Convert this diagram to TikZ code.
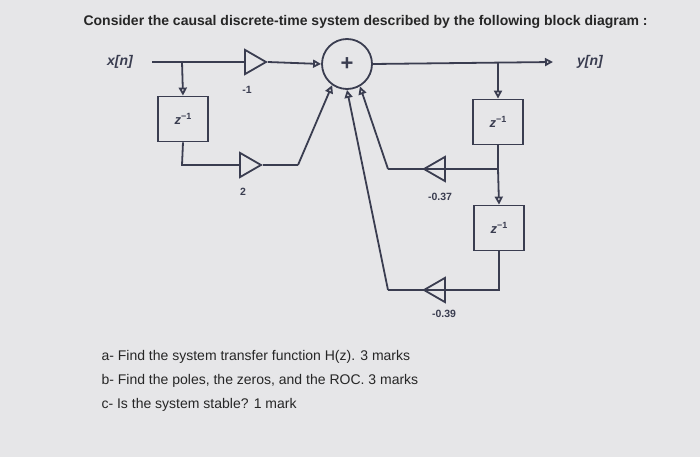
\documentclass[tikz,border=0pt]{standalone}
\usepackage{fontspec}
\setmainfont{Liberation Sans}
\usetikzlibrary{arrows.meta,shapes.geometric}
\definecolor{ink}{HTML}{3A3D50}
\definecolor{bg}{HTML}{E6E6E8}
\newcommand{\zinv}{{\bfseries\itshape z}\raisebox{5pt}{\bfseries\fontsize{9}{10}\selectfont −1}}
\begin{document}
\begin{tikzpicture}[x=1pt,y=-1pt,
  wire/.style={draw=ink,line width=1.8pt},
  arr/.style={wire,-{Triangle[open,length=8pt,width=8pt]}},
  delaybox/.style={draw=ink,line width=1.8pt,minimum width=50pt,minimum height=45pt,inner sep=0pt,font=\fontsize{13}{15}\selectfont,text=ink},
  gainr/.style={draw=ink,line width=1.8pt,isosceles triangle,isosceles triangle apex angle=60,minimum height=21pt,inner sep=0pt,shape border rotate=0},
  gainl/.style={gainr,shape border rotate=180},
  lab/.style={font=\bfseries\fontsize{10.5}{12}\selectfont,text=ink},
  txt/.style={font=\fontsize{14}{16}\selectfont,text=black!85,anchor=west}]
\fill[bg] (0,0) rectangle (700,457);
\useasboundingbox (0,0) rectangle (700,457);
\node[font=\bfseries\fontsize{14}{16}\selectfont,anchor=west,text=black!85] (title) at (80,22) {Consider the causal discrete-time system described by the following block diagram :};
\node[font=\bfseries\itshape\fontsize{14}{16}\selectfont,text=ink] (x) at (120,62) {x[n]};
\node[font=\bfseries\itshape\fontsize{14}{16}\selectfont,text=ink] (y) at (590,62) {y[n]};
\node[circle,draw=ink,line width=1.8pt,minimum size=50pt,inner sep=0pt,font=\bfseries\fontsize{22}{24}\selectfont,text=ink] (sum) at (347,64) {+};
\coordinate (xs) at (152,62);
\coordinate (b1) at (182,62);
\node[delaybox] (d1) at (183,119) {\zinv};
\node[gainr] (g1) at (252,62) {};
\node[lab] at (247,90) {-1};
\coordinate (c1) at (182,165);
\node[gainr] (g2) at (247,165) {};
\node[lab] at (243,192) {2};
\coordinate (k2) at (298,165);
\coordinate (out) at (553,62);
\coordinate (b2) at (498,62);
\node[delaybox] (d2) at (498,122) {\zinv};
\coordinate (b3) at (498,169);
\node[gainl] (g3) at (438,169) {};
\node[lab] at (440,197) {-0.37};
\coordinate (k3) at (388,169);
\node[delaybox] (d3) at (499,228) {\zinv};
\coordinate (c3) at (499,290);
\node[gainl] (g4) at (438,290) {};
\node[lab] at (444,314) {-0.39};
\coordinate (k4) at (388,290);
% wires
\draw[wire] (xs) -- (b1);
\draw[arr] (b1) -- (d1.north);
\draw[wire] (b1) -- (g1.west);
\draw[arr] (g1.east) -- (sum.west);
\draw[wire] (d1.south) -- (c1) -- (g2.west);
\draw[wire] (g2.east) -- (k2);
\draw[arr] (k2) -- (sum.235);
\draw[arr] (sum.east) -- (out);
\draw[arr] (b2) -- (d2.north);
\draw[wire] (d2.south) -- (b3);
\draw[arr] (b3) -- (d3.north);
\draw[wire] (b3) -- (g3.west);
\draw[wire] (g3.east) -- (k3);
\draw[arr] (k3) -- (sum.300);
\draw[wire] (d3.south) -- (c3) -- (g4.west);
\draw[wire] (g4.east) -- (k4);
\draw[arr] (k4) -- (sum.270);
\node[txt] (q1) at (98,357) {a- Find the system transfer function H(z). 3 marks};
\node[txt] (q2) at (98,381) {b- Find the poles, the zeros, and the ROC. 3 marks};
\node[txt] (q3) at (98,405) {c- Is the system stable? 1 mark};
\end{tikzpicture}
\end{document}
